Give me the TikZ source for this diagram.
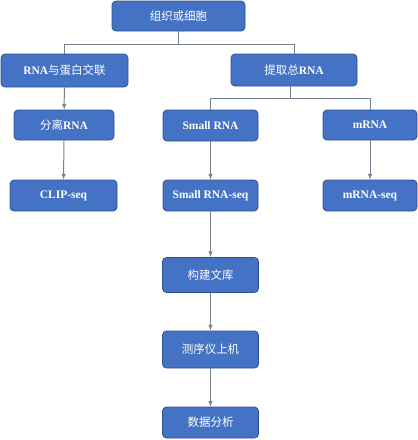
\documentclass[tikz,border=0pt]{standalone}
\usepackage{fontspec}
\setmainfont{Liberation Serif}
\newfontfamily\cjk{Noto Sans CJK SC}
\newcommand{\zh}[1]{{\cjk\mdseries #1}}
\definecolor{boxblue}{HTML}{4472C4}
\definecolor{boxline}{HTML}{2F528F}
\definecolor{linkgray}{HTML}{76818F}

\begin{document}
\begin{tikzpicture}
		[
			x=1pt, y=-1pt,
			box/.style={rectangle, rounded corners=4pt, draw=boxline, line width=0.8pt, fill=boxblue, text=white, font=\bfseries\fontsize{11.5}{13}\selectfont, inner sep=2pt},
			link/.style={draw=linkgray, line width=1pt},
		]
		\useasboundingbox (0,0) rectangle (418,440);

		% Nodes
		\foreach \name/\x/\y/\w/\h/\text in
		{
			tissue/178.5/16/133/30/{\zh{组织或细胞}},
			crosslink/64.5/70.5/127/33/{RNA\zh{与蛋白交联}},
			extract/294/70/126/32/{\zh{提取总}RNA},
			isolate/64/125/100/30/{\zh{分离}RNA},
			small/210.5/125.5/95/31/{Small RNA},
			mrna/370/125/94/30/{mRNA},
			clip/63.5/195.5/107/31/{CLIP-seq},
			smallseq/210.5/195.5/95/31/{Small RNA-seq},
			mrnaseq/370/195.5/94/31/{mRNA-seq},
			library/210.5/275/96/35/{\zh{构建文库}},
			sequencer/210.5/349.5/96/37/{\zh{测序仪上机}},
			analysis/210.5/422.5/96/31/{\zh{数据分析}}
		}
			\node[box, minimum width=\w pt, minimum height=\h pt] (\name) at (\x,\y) {\text};

		% Brackets
		\coordinate (split1) at (178.5,44);
		\coordinate (split2) at (290,98);
		\draw[link] (tissue) -- (split1);
		\draw[link] (split1) -| (crosslink);
		\draw[link] (split1) -| (extract);
		\draw[link] (extract.south -| split2) -- (split2);
		\draw[link] (split2) -| (small);
		\draw[link] (split2) -| (mrna);

		% Edges
		\foreach \u/\v in
		{
			crosslink/isolate,
			isolate/clip,
			small/smallseq,
			mrna/mrnaseq,
			smallseq/library,
			library/sequencer,
			sequencer/analysis}
			\draw[link, -latex] (\u) -- (\v);

		\end{tikzpicture}
\end{document}
